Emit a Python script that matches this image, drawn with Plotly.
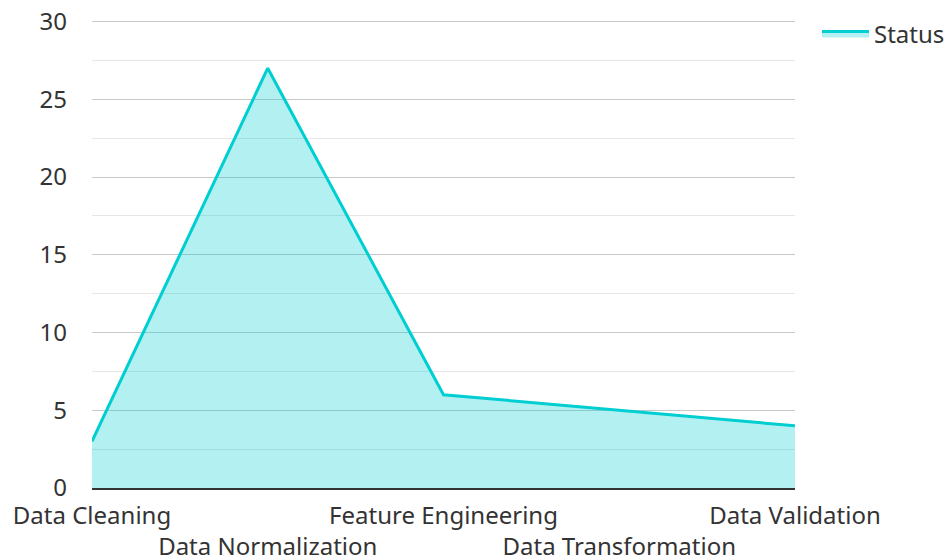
import plotly.graph_objects as go

categories = ["Data Cleaning", "Data Normalization", "Feature Engineering", "Data Transformation", "Data Validation"]
values = [3, 27, 6, 5, 4]
series_name = "Status"
y_ticks = [0, 5, 10, 15, 20, 25, 30]

ticktext = [c if i % 2 == 0 else "<br>" + c for i, c in enumerate(categories)]

fig = go.Figure()
fig.add_trace(go.Scatter(
    x=categories, y=values, name=series_name, mode="lines",
    line=dict(color="#00CED1", width=3),
    fill="tozeroy", fillcolor="rgba(0,206,209,0.3)",
))

fig.update_layout(
    width=944, height=552,
    margin=dict(l=84, r=157, t=12, b=72),
    paper_bgcolor="white", plot_bgcolor="white",
    font=dict(family="Noto Sans", size=24, color="#333333"),
    showlegend=True,
    legend=dict(xref="container", yref="container", x=0.857, xanchor="left",
                y=0.994, yanchor="top", itemwidth=47,
                font=dict(size=24, color="#333333"), bgcolor="rgba(0,0,0,0)"),
    xaxis=dict(
        tickmode="array", tickvals=categories, ticktext=ticktext, tickangle=0,
        showgrid=False, showline=True, linecolor="#333333", linewidth=2,
        ticks="", tickfont=dict(size=24, color="#333333"), ticklabelstandoff=5,
        range=[0, len(categories) - 1], zeroline=False, automargin=False,
    ),
    yaxis=dict(
        range=[0, 30.1], tickvals=y_ticks, showgrid=True, gridcolor="#C8C8C8", gridwidth=1,
        zeroline=False, showline=False, ticks="", ticklen=0, ticklabelstandoff=24,
        tickfont=dict(size=24, color="#333333"), automargin=False,
        ticklabeloverflow="allow",
        minor=dict(dtick=2.5, showgrid=True, gridcolor="#E6E6E6", gridwidth=1),
    ),
)

fig.write_html("out.html")
